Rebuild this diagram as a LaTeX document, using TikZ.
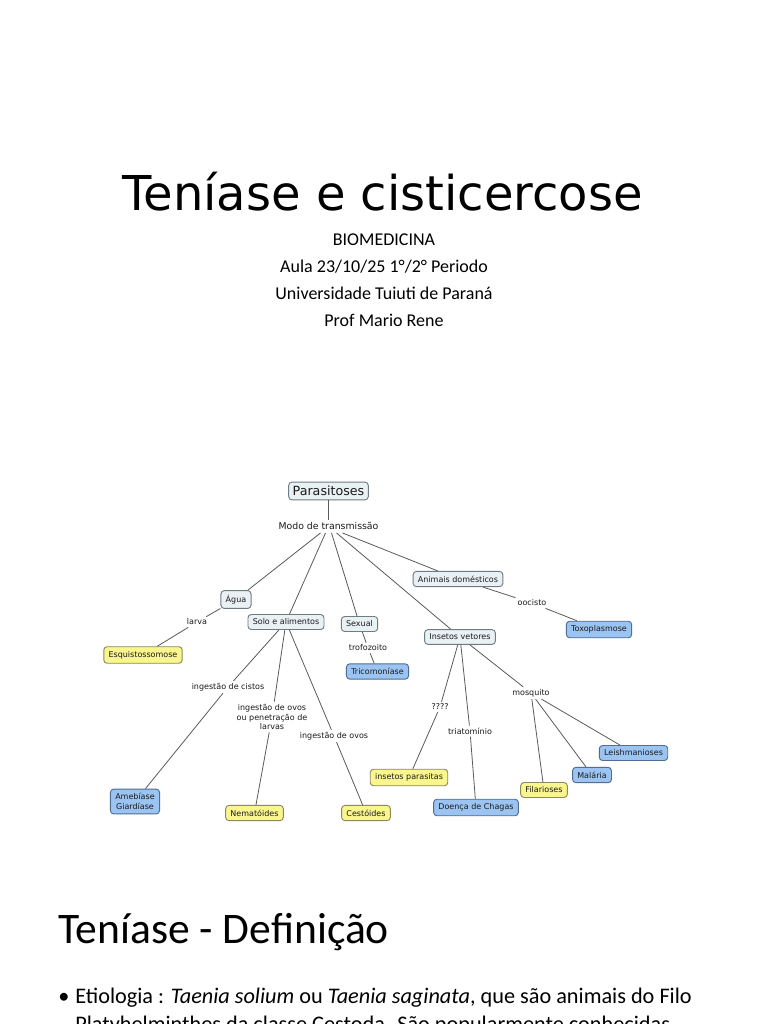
\documentclass[tikz,border=0pt]{standalone}
\usepackage{fontspec}
\setmainfont{Carlito}
\newfontfamily\dejavu{DejaVu Sans}
\usetikzlibrary{calc}
\definecolor{edgec}{HTML}{5A5A5A}
\definecolor{nodefill}{HTML}{EAF1F4}
\definecolor{nodeborder}{HTML}{6E7C84}
\definecolor{bluefill}{HTML}{9CC4F2}
\definecolor{blueborder}{HTML}{4F6E90}
\definecolor{yelfill}{HTML}{FAF68E}
\definecolor{yelborder}{HTML}{8C8A5C}
\definecolor{maptext}{HTML}{1A1A1A}
\tikzset{
  cbox/.style={draw=nodeborder, fill=nodefill, rounded corners=2.5pt, line width=0.7pt,
    inner xsep=3.6pt, inner ysep=3.3pt, font=\dejavu\fontsize{6}{7}\selectfont, text=maptext},
  bbox/.style={cbox, fill=bluefill, draw=blueborder},
  ybox/.style={cbox, fill=yelfill, draw=yelborder},
  lbl/.style={font=\dejavu\fontsize{6}{7.4}\selectfont, inner sep=1.5pt, text=maptext, align=center},
  conn/.style={draw=edgec, line width=0.6pt},
  slidetext/.style={anchor=base west, inner sep=0, font=\fontsize{16.7}{22}\selectfont},
}
\begin{document}
\begin{tikzpicture}[x=0.75pt,y=-0.75pt]
\useasboundingbox (0,0) rectangle (768,1024);
\fill[white] (0,0) rectangle (768,1024);

% title block
\node[anchor=base, inner sep=0, font=\dejavu\fontsize{36}{40}\selectfont] (title) at (382.5,210) {Teníase e cisticercose};
\node[anchor=base, inner sep=0, font=\fontsize{13.5}{16}\selectfont] (sub1) at (384,245) {BIOMEDICINA};
\node[anchor=base, inner sep=0, font=\fontsize{13.5}{16}\selectfont] (sub2) at (384,272) {Aula 23/10/25 1°/2° Periodo};
\node[anchor=base, inner sep=0, font=\fontsize{13.5}{16}\selectfont] (sub3) at (384,299) {Universidade Tuiuti de Paraná};
\node[anchor=base, inner sep=0, font=\fontsize{13.5}{16}\selectfont] (sub4) at (384,326) {Prof Mario Rene};

% concept map nodes
\node[cbox, inner xsep=3pt, inner ysep=3pt, font=\dejavu\fontsize{9.5}{11}\selectfont] (par) at (328.5,491) {Parasitoses};
\node[lbl, font=\dejavu\fontsize{7}{8}\selectfont] (modo) at (328.5,526) {Modo de transmissão};
\node[cbox] (agua) at (236,599.5) {Água};
\node[cbox] (solo) at (286,622) {Solo e alimentos};
\node[cbox] (sexual) at (359.5,624) {Sexual};
\node[cbox] (animais) at (458,579) {Animais domésticos};
\node[cbox] (insetos) at (460,637) {Insetos vetores};
\node[bbox] (toxo) at (599,629.5) {Toxoplasmose};
\node[bbox] (trico) at (377.5,671.5) {Tricomoníase};
\node[ybox] (esq) at (143,655) {Esquistossomose};
\node[bbox, align=center, font=\dejavu\fontsize{6}{7.2}\selectfont] (ameb) at (135,801.5) {Amebíase\\Giardíase};
\node[ybox] (nema) at (254.5,813) {Nematóides};
\node[ybox] (cest) at (366,813) {Cestóides};
\node[ybox] (insp) at (409,777.5) {insetos parasitas};
\node[bbox] (chagas) at (476,807.5) {Doença de Chagas};
\node[ybox] (fila) at (544,790) {Filarioses};
\node[bbox] (mala) at (592,775) {Malária};
\node[bbox] (leish) at (633.5,753) {Leishmanioses};

% labels
\node[lbl] (larva) at (197,622) {larva};
\node[lbl] (trofo) at (368,648) {trofozoito};
\node[lbl] (oocisto) at (532,603) {oocisto};
\node[lbl] (lcistos) at (228,687) {ingestão de cistos};
\node[lbl] (lovospen) at (272,717) {ingestão de ovos\\ou penetração de\\larvas};
\node[lbl] (lovos) at (334,736) {ingestão de ovos};
\node[lbl] (lq) at (440,707) {????};
\node[lbl] (ltria) at (470,731) {triatomínio};
\node[lbl] (lmosq) at (531,693) {mosquito};

% connectors
\draw[conn] (par) -- (modo);
\draw[conn] ($(modo.south)+(-8,1)$) -- (agua);
\draw[conn] ($(modo.south)+(-3,1)$) -- (solo);
\draw[conn] ($(modo.south)+(3,1)$) -- (sexual);
\draw[conn] ($(modo.south)+(8,1)$) -- (insetos);
\draw[conn] ($(modo.south)+(14,1)$) -- (animais);
\draw[conn] (agua) -- (larva);
\draw[conn] (larva) -- (esq);
\draw[conn] (animais) -- (oocisto);
\draw[conn] (oocisto) -- (toxo);
\draw[conn] (sexual) -- (trofo);
\draw[conn] (trofo) -- (trico);
\draw[conn] (solo) -- (lcistos);
\draw[conn] (lcistos) -- (ameb);
\draw[conn] (solo) -- (lovospen);
\draw[conn] (lovospen) -- (nema);
\draw[conn] (solo) -- (lovos);
\draw[conn] (lovos) -- (cest);
\draw[conn] (insetos) -- (lq);
\draw[conn] (lq) -- (insp);
\draw[conn] (insetos) -- (ltria);
\draw[conn] (ltria) -- (chagas);
\draw[conn] (insetos) -- (lmosq);
\draw[conn] (lmosq) -- (fila);
\draw[conn] (lmosq) -- (mala);
\draw[conn] (lmosq) -- (leish);

% bottom slide
\node[anchor=base west, inner sep=0, font=\fontsize{32.7}{38}\selectfont] (head) at (58,943) {Teníase - Definição};
\node[slidetext] (bul) at (58,1003) {•};
\node[slidetext] (line1) at (75,1003) {Etiologia : \textit{Taenia solium} ou \textit{Taenia saginata}, que são animais do Filo};
\node[slidetext] (line2) at (75,1031) {Platyhelminthes da classe Cestoda. São popularmente conhecidas};
\end{tikzpicture}
\end{document}
